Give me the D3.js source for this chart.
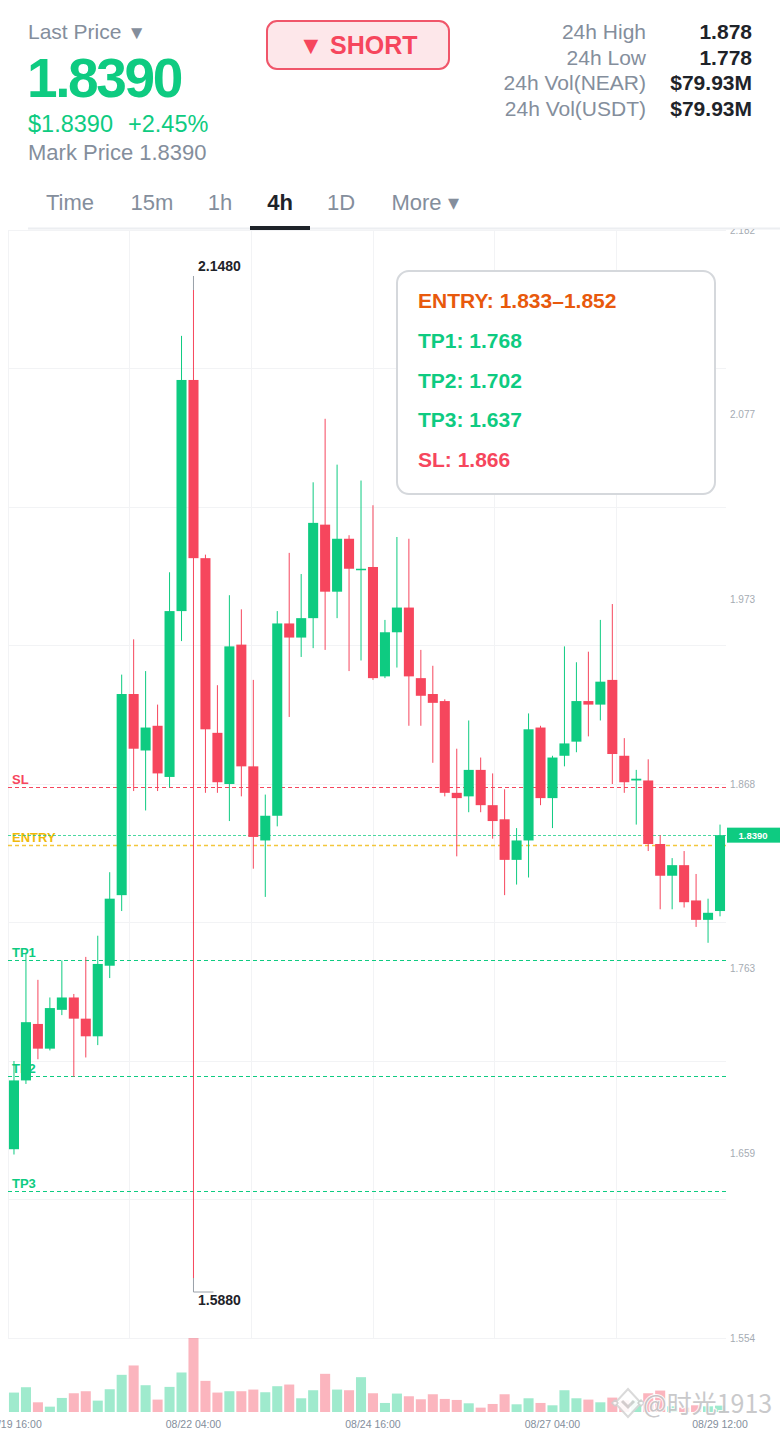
<!DOCTYPE html>
<html lang="en">
<head>
<meta charset="UTF-8">
<title>NEAR/USDT 4h short signal</title>
<script src="https://d3js.org/d3.v7.min.js"></script>
<style>
  html, body { margin: 0; padding: 0; background: #fff; }
  svg { display: block; font-family: "Liberation Sans", Arial, sans-serif; }
</style>
</head>
<body>
<svg id="chart" width="780" height="1430"></svg>
<script>
// 4h candles, 08/19 16:00 .. 08/29 12:00
const opens  = [1.661,1.700,1.732,1.718,1.740,1.747,1.735,1.725,1.765,1.805,
                1.919,1.887,1.901,1.872,1.966,2.097,1.996,1.897,1.868,1.947,
                1.878,1.836,1.850,1.959,1.951,1.962,2.015,1.977,2.007,1.990,
                1.991,1.929,1.954,1.968,1.928,1.919,1.915,1.863,1.861,1.876,
                1.856,1.848,1.825,1.836,1.900,1.860,1.884,1.892,1.915,1.913,
                1.927,1.884,1.870,1.870,1.834,1.816,1.822,1.802,1.791,1.796];
const highs  = [1.711,1.772,1.757,1.747,1.768,1.749,1.770,1.782,1.818,1.930,
                1.950,1.932,1.913,1.988,2.122,2.148,1.998,1.924,1.975,1.967,
                1.927,1.862,1.966,1.999,1.987,2.039,2.075,2.049,2.009,2.040,
                2.026,1.961,2.008,2.007,1.944,1.935,1.916,1.888,1.904,1.883,
                1.874,1.865,1.843,1.908,1.901,1.884,1.946,1.937,1.943,1.961,
                1.970,1.894,1.876,1.882,1.839,1.826,1.830,1.817,1.803,1.845];
const lows   = [1.658,1.698,1.712,1.717,1.737,1.702,1.713,1.720,1.758,1.796,
                1.864,1.853,1.864,1.866,1.949,1.588,1.863,1.863,1.847,1.861,
                1.820,1.804,1.844,1.906,1.940,1.945,1.944,1.962,1.932,1.938,
                1.927,1.928,1.934,1.901,1.901,1.880,1.861,1.827,1.852,1.852,
                1.837,1.805,1.811,1.815,1.856,1.843,1.878,1.886,1.895,1.904,
                1.868,1.863,1.845,1.830,1.797,1.797,1.798,1.787,1.778,1.793];
const closes = [1.700,1.733,1.718,1.741,1.747,1.735,1.725,1.766,1.803,1.919,
                1.888,1.900,1.874,1.966,2.097,1.996,1.899,1.869,1.946,1.878,
                1.838,1.850,1.959,1.951,1.962,2.016,1.977,2.007,1.990,1.990,
                1.928,1.954,1.968,1.929,1.918,1.914,1.863,1.860,1.876,1.856,
                1.847,1.825,1.836,1.899,1.860,1.883,1.891,1.915,1.913,1.926,
                1.885,1.869,1.871,1.834,1.816,1.822,1.801,1.791,1.795,1.839];
// volume, relative units
const volumes = [58,74,29,16,42,56,62,34,68,111,139,80,37,75,118,221,93,58,62,62,
                 67,59,77,82,41,65,114,67,65,104,56,27,55,47,38,53,39,36,26,13,
                 24,53,23,41,27,20,65,41,37,29,43,35,35,56,64,17,13,20,17,19];

const timeLabels = ["08/19 16:00", "08/22 04:00", "08/24 16:00", "08/27 04:00", "08/29 12:00"];
const timeLabelIdx = [0, 15, 30, 45, 59];

const levelNames  = ["SL", "ENTRY", "TP1", "TP2", "TP3"];
const levelValues = [1.866, 1.833, 1.768, 1.702, 1.637];
const lastPrice = 1.839;

const signalLines = ["ENTRY: 1.833–1.852", "TP1: 1.768", "TP2: 1.702", "TP3: 1.637", "SL: 1.866"];
const statNames  = ["24h High", "24h Low", "24h Vol(NEAR)", "24h Vol(USDT)"];
const statValues = ["1.878", "1.778", "$79.93M", "$79.93M"];
const tabs = ["Time", "15m", "1h", "4h", "1D", "More ▾"];
const activeTab = "4h";

const GREEN = "#0ecb81", RED = "#f6465d", YELLOW = "#f0b90b", GRAY = "#848e9c", DARK = "#1e2329";

const svg = d3.select("#chart");
const n = opens.length;
const crisp = v => Math.floor(v) + 0.5;

// ---------- header ----------
const head = svg.append("g");
head.append("text").attr("x", 28).attr("y", 39).attr("font-size", 21).attr("fill", GRAY)
  .text("Last Price ").append("tspan").attr("font-size", 19).text("▼");
head.append("text").attr("x", 27).attr("y", 97).attr("font-size", 55).attr("font-weight", 700)
  .attr("letter-spacing", -2.4).attr("fill", GREEN).text(closes[n - 1].toFixed(4));
head.append("text").attr("x", 28).attr("y", 132).attr("font-size", 23.5).attr("fill", GREEN)
  .text("$" + closes[n - 1].toFixed(4));
head.append("text").attr("x", 128).attr("y", 132).attr("font-size", 23.5).attr("fill", GREEN)
  .text("+2.45%");
head.append("text").attr("x", 28).attr("y", 160).attr("font-size", 22).attr("fill", GRAY)
  .text("Mark Price " + closes[n - 1].toFixed(4));

head.append("rect").attr("x", 267).attr("y", 21).attr("width", 182).attr("height", 48)
  .attr("rx", 10).attr("fill", "#fde7ea").attr("stroke", "#f0566a").attr("stroke-width", 2);
head.append("text").attr("x", 358).attr("y", 54).attr("text-anchor", "middle")
  .attr("font-size", 25).attr("font-weight", 700).attr("fill", RED).text("▼ SHORT");

const statY = d3.scalePoint().domain(statNames).range([39, 116]);
head.selectAll(".stat-name").data(statNames).enter().append("text")
  .attr("x", 646).attr("y", d => statY(d)).attr("text-anchor", "end")
  .attr("font-size", 21).attr("fill", GRAY).text(d => d);
head.selectAll(".stat-val").data(statValues).enter().append("text")
  .attr("x", 752).attr("y", (d, i) => statY(statNames[i])).attr("text-anchor", "end")
  .attr("font-size", 21).attr("font-weight", 700).attr("fill", DARK).text(d => d);

// tabs
const tabX = [70, 152, 220, 280, 341, 425];
head.selectAll(".tab").data(tabs).enter().append("text")
  .attr("x", (d, i) => tabX[i]).attr("y", 210).attr("text-anchor", "middle")
  .attr("font-size", 22).attr("font-weight", d => d === activeTab ? 700 : 400)
  .attr("fill", d => d === activeTab ? DARK : GRAY).text(d => d);
head.append("line").attr("x1", 28).attr("x2", 780).attr("y1", 228.5).attr("y2", 228.5)
  .attr("stroke", "#eceef1").attr("stroke-width", 2);
head.append("rect").attr("x", tabX[tabs.indexOf(activeTab)] - 30).attr("y", 226)
  .attr("width", 60).attr("height", 4).attr("fill", DARK);

// ---------- chart ----------
const plot = { left: 8, right: 726, top: 230, bottom: 1338, volBase: 1412 };

const x = d3.scalePoint().domain(d3.range(n)).range([plot.left, plot.right]).padding(0.5);
const step = x.step();
const bodyW = step * 0.84;
const y = d3.scaleLinear().domain([1.554, 2.182]).range([plot.bottom, plot.top]);
const yVol = d3.scaleLinear().domain([0, d3.max(volumes)]).range([plot.volBase, plot.bottom]);

svg.append("clipPath").attr("id", "chartClip").append("rect")
  .attr("x", 0).attr("y", 229).attr("width", 780).attr("height", 1201);

const chart = svg.append("g").attr("clip-path", "url(#chartClip)");

// grid
const hGrid = d3.range(9).map(k => y.domain()[0] + k * (y.domain()[1] - y.domain()[0]) / 8);
chart.append("g").selectAll("line").data(hGrid).enter().append("line")
  .attr("x1", plot.left).attr("x2", plot.right)
  .attr("y1", d => crisp(y(d))).attr("y2", d => crisp(y(d)))
  .attr("stroke", "#f2f3f5");
const vGrid = d3.range(6).map(k => plot.left + k * (plot.right - plot.left) / 5.9);
chart.append("g").selectAll("line").data(vGrid).enter().append("line")
  .attr("x1", d => crisp(d)).attr("x2", d => crisp(d))
  .attr("y1", plot.top).attr("y2", plot.bottom)
  .attr("stroke", "#f2f3f5");

// price axis labels
const yTicks = d3.range(7).map(k => y.domain()[0] + k * (y.domain()[1] - y.domain()[0]) / 6);
chart.append("g").selectAll("text").data(yTicks).enter().append("text")
  .attr("x", 730).attr("y", d => y(d) + 3.5)
  .attr("font-size", 10).attr("fill", "#a5abb3").text(d3.format(".3f"));

// volume bars
chart.append("g").selectAll("rect").data(volumes).enter().append("rect")
  .attr("x", (d, i) => x(i) - bodyW / 2).attr("width", bodyW)
  .attr("y", d => yVol(d)).attr("height", d => plot.volBase - yVol(d))
  .attr("fill", (d, i) => closes[i] >= opens[i] ? GREEN : RED).attr("fill-opacity", 0.4);

// level lines
const levelColor = name => name === "SL" ? RED : name === "ENTRY" ? YELLOW : GREEN;
const levels = chart.append("g");
levels.selectAll("line").data(levelValues).enter().append("line")
  .attr("x1", plot.left).attr("x2", plot.right)
  .attr("y1", d => crisp(y(d))).attr("y2", d => crisp(y(d)))
  .attr("stroke", (d, i) => levelColor(levelNames[i]))
  .attr("stroke-width", (d, i) => levelNames[i] === "ENTRY" ? 1.5 : 1)
  .attr("stroke-opacity", (d, i) => levelNames[i] === "ENTRY" ? 0.8 : 1)
  .attr("stroke-dasharray", "4,3");

// last price line
chart.append("line").attr("x1", plot.left).attr("x2", plot.right)
  .attr("y1", crisp(y(lastPrice))).attr("y2", crisp(y(lastPrice)))
  .attr("stroke", GREEN).attr("stroke-opacity", 0.75).attr("stroke-dasharray", "3,2");

// candles
const candles = chart.append("g").selectAll("g").data(d3.range(n)).enter().append("g");
candles.append("line")
  .attr("x1", i => x(i)).attr("x2", i => x(i))
  .attr("y1", i => y(highs[i])).attr("y2", i => y(lows[i]))
  .attr("stroke", i => closes[i] >= opens[i] ? GREEN : RED).attr("stroke-width", 1);
candles.append("rect")
  .attr("x", i => x(i) - bodyW / 2).attr("width", bodyW)
  .attr("y", i => y(Math.max(opens[i], closes[i])))
  .attr("height", i => Math.max(1.5, Math.abs(y(opens[i]) - y(closes[i]))))
  .attr("fill", i => closes[i] >= opens[i] ? GREEN : RED);

// level labels
levels.selectAll("text").data(levelNames).enter().append("text")
  .attr("x", 12).attr("y", (d, i) => y(levelValues[i]) - (d === "ENTRY" ? 4 : 3.5))
  .attr("font-size", 13).attr("font-weight", 700)
  .attr("fill", d => levelColor(d)).text(d => d);

// last price tag
chart.append("rect").attr("x", 727).attr("y", y(lastPrice) - 7.5).attr("width", 53).attr("height", 15)
  .attr("fill", GREEN);
chart.append("text").attr("x", 753).attr("y", y(lastPrice) + 3.5).attr("text-anchor", "middle")
  .attr("font-size", 9.5).attr("font-weight", 700).attr("fill", "#fff").text(lastPrice.toFixed(4));

// high / low markers
const hiIdx = d3.maxIndex(highs), loIdx = d3.minIndex(lows);
const marks = chart.append("g");
marks.append("line").attr("x1", x(hiIdx)).attr("x2", x(hiIdx))
  .attr("y1", y(highs[hiIdx])).attr("y2", y(highs[hiIdx]) - 14).attr("stroke", "#9aa0a8");
marks.append("text").attr("x", x(hiIdx) + 4.5).attr("y", y(highs[hiIdx]) - 19)
  .attr("font-size", 14).attr("font-weight", 700).attr("fill", DARK).text(highs[hiIdx].toFixed(4));
marks.append("path")
  .attr("d", `M${x(loIdx)},${y(lows[loIdx])}V${y(lows[loIdx]) + 14}H${x(loIdx) + 20}`)
  .attr("fill", "none").attr("stroke", "#9aa0a8");
marks.append("text").attr("x", x(loIdx) + 4.5).attr("y", y(lows[loIdx]) + 27)
  .attr("font-size", 14).attr("font-weight", 700).attr("fill", DARK).text(lows[loIdx].toFixed(4));

// time labels (first one runs off the left edge, as in the app)
chart.append("g").selectAll("text").data(timeLabels).enter().append("text")
  .attr("x", (d, i) => x(timeLabelIdx[i])).attr("y", 1428).attr("text-anchor", "middle")
  .attr("font-size", 10.5).attr("fill", GRAY).text(d => d);

// signal box
const box = svg.append("g");
box.append("rect").attr("x", 397).attr("y", 271).attr("width", 318).attr("height", 223)
  .attr("rx", 12).attr("fill", "#fff").attr("stroke", "#d5d8dc").attr("stroke-width", 2);
const boxColor = s => s.startsWith("ENTRY") ? "#e8590c" : s.startsWith("SL") ? RED : GREEN;
box.selectAll("text").data(signalLines).enter().append("text")
  .attr("x", 418).attr("y", (d, i) => 308 + i * 39.8)
  .attr("font-size", 21).attr("font-weight", 700).attr("fill", d => boxColor(d)).text(d => d);

// watermark
const wm = svg.append("g").attr("opacity", 0.9);
const logo = wm.append("g").attr("transform", "translate(628,1403)");
logo.append("path").attr("d", "M0,-14 L13,0 L0,14 L-13,0 Z")
  .attr("fill", "#fff").attr("stroke", "#d6d6d6").attr("stroke-width", 2);
logo.append("path").attr("d", "M-6,-2 L0,4 L6,-2").attr("fill", "none")
  .attr("stroke", "#cfcfcf").attr("stroke-width", 3);
logo.append("path").attr("d", "M-16,0 l3,-3 l3,3 l-3,3 Z M10,0 l3,-3 l3,3 l-3,3 Z")
  .attr("fill", "#fff").attr("stroke", "#d0d0d0").attr("stroke-width", 1.5);
wm.append("text").attr("x", 643).attr("y", 1413)
  .attr("font-family", "'Noto Sans CJK SC', 'Noto Sans', sans-serif")
  .attr("font-size", 25).attr("fill", "#c4c4c6")
  .attr("stroke", "#fff").attr("stroke-width", 2).attr("paint-order", "stroke")
  .text("@时光1913");
</script>
</body>
</html>
